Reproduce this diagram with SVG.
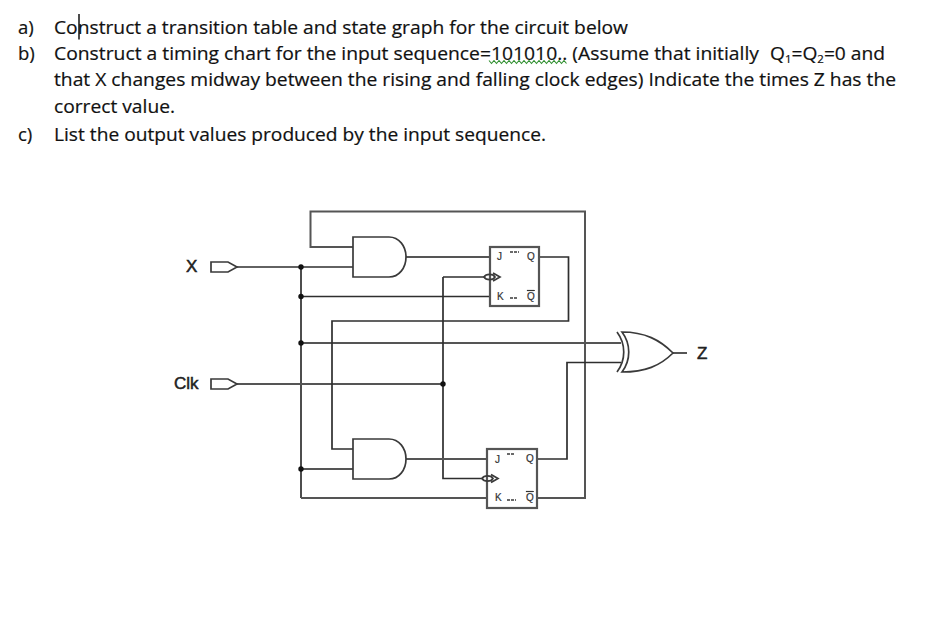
<svg xmlns="http://www.w3.org/2000/svg" width="926" height="622" viewBox="0 0 926 622">
<style>
.t{font-family:"Open Sans","Noto Sans","Liberation Sans",sans-serif;font-size:18.5px;fill:#111;stroke:#111;stroke-width:.2}
.l{font-family:"Liberation Sans",Arial,sans-serif;font-size:17px;fill:#222;stroke:#222;stroke-width:.5}
.f{font-family:"Liberation Sans",Arial,sans-serif;font-size:10px;fill:#333;stroke:#333;stroke-width:.2}
.w{fill:none;stroke:#2e2e2e;stroke-width:1.7}
.g{fill:none;stroke:#555;stroke-width:2}
.n{fill:#fff;stroke:#3a3a3a;stroke-width:1.7}
.b{fill:#fff;stroke:#555;stroke-width:2.200}
.m{fill:none;stroke:#3a3a3a;stroke-width:1.7}
</style>
<defs>
<circle id="dot" r="2.7" fill="#111"/>
<path id="port" class="n" d="M0 0H17L26 5L17 10H0Z"/>
<path id="clk" class="m" d="M0 0C2-3.500 9-3.500 11 0C9 3.500 2 3.500 0 0ZM9-4L16 0L9 4"/>
<path id="and" class="n" d="M0 0H36C46 0 53 9 53 20C53 31 46 40 36 40H0Z"/>
</defs>
<rect width="926" height="622" fill="#fff"/>
<g id="question">
<text class="t" x="18" y="33.500">a)</text>
<text class="t" x="54" y="33.500" textLength="574" lengthAdjust="spacingAndGlyphs">Construct a transition table and state graph for the circuit below</text>
<path d="M79 14V39.500" stroke="#111" stroke-width="1.500"/>
<text class="t" x="18" y="59.500">b)</text>
<text class="t" x="54" y="59.500" textLength="705" lengthAdjust="spacingAndGlyphs">Construct a timing chart for the input sequence=101010.. (Assume that initially</text>
<text class="t" x="770" y="59.500" textLength="115" lengthAdjust="spacingAndGlyphs">Q<tspan font-size="11" dy="3">1</tspan><tspan dy="-3">=Q</tspan><tspan font-size="11" dy="3">2</tspan><tspan dy="-3">=0 and</tspan></text>
<path d="M489 60.500l2.500 3 2.500-3 2.500 3 2.500-3 2.500 3 2.500-3 2.500 3 2.500-3 2.500 3 2.500-3 2.500 3 2.500-3 2.500 3 2.500-3 2.500 3 2.500-3 2.500 3 2.500-3 2.500 3 2.500-3 2.500 3 2.500-3 2.500 3 2.500-3 2.500 3 2.500-3 2.500 3 2.500-3 2.500 3 2.500-3 2.500 3" fill="none" stroke="#2f8f2f" stroke-width="1.100"/>
<text class="t" x="54" y="85.500" textLength="842" lengthAdjust="spacingAndGlyphs">that X changes midway between the rising and falling clock edges) Indicate the times Z has the</text>
<text class="t" x="54" y="113" textLength="121" lengthAdjust="spacingAndGlyphs">correct value.</text>
<text class="t" x="18" y="141">c)</text>
<text class="t" x="54" y="141" textLength="492" lengthAdjust="spacingAndGlyphs">List the output values produced by the input sequence.</text>
</g>
<g id="connectors">
<path class="g" d="M353 247H310.500V211.500H585V498H537"/>
<path class="w" d="M237 267H353"/>
<path class="w" d="M301 267V498"/>
<path class="g" d="M301 498H487"/>
<path class="w" d="M301 296.500H490"/>
<path class="g" d="M301 343H621"/>
<path class="g" d="M237 384H443"/>
<path class="w" d="M443 277V478.500H483"/>
<path class="w" d="M443 277H484"/>
<path class="g" d="M405 257H490"/>
<path class="w" d="M539 257H568.500V321H332V449H353"/>
<path class="g" d="M301 469H353"/>
<path class="g" d="M406 459H487"/>
<path class="w" d="M537 459H567V362.500H621"/>
<path class="g" d="M673 353H687"/>
<use href="#dot" x="301" y="267"/>
<use href="#dot" x="301" y="296.500"/>
<use href="#dot" x="301" y="343"/>
<use href="#dot" x="301" y="469"/>
<use href="#dot" x="443" y="384"/>
</g>
<g id="port-x"><text class="l" x="186" y="272">X</text><use href="#port" x="211" y="262"/></g>
<g id="port-clk"><text class="l" x="174" y="389">Clk</text><use href="#port" x="211" y="379"/></g>
<g id="and-1"><use href="#and" x="353" y="237"/></g>
<g id="and-2"><use href="#and" x="353" y="439"/></g>
<g id="ff-1">
<rect class="b" x="490" y="247" width="49" height="59"/>
<use href="#clk" x="484" y="277"/>
<text class="f" x="497" y="260">J</text><text class="f" x="527" y="260">Q</text>
<text class="f" x="497" y="300">K</text><text class="f" x="527" y="300" text-decoration="overline">Q</text>
<path class="m" d="M510 252H519M510 298H518" stroke-dasharray="3 1"/>
</g>
<g id="ff-2">
<rect class="b" x="487" y="449" width="50" height="59"/>
<use href="#clk" x="482" y="478.500"/>
<text class="f" x="495" y="463">J</text><text class="f" x="526" y="462">Q</text>
<text class="f" x="495" y="501">K</text><text class="f" x="526" y="501" text-decoration="overline">Q</text>
<path class="m" d="M507 454H515M507 500H516" stroke-dasharray="3 1"/>
</g>
<g id="xor">
<path class="n" d="M622 332C645 332 660 340 673 353C660 366 645 372 622 372C631 360 631 344 622 332Z"/>
<path class="m" d="M617 332C626 344 626 360 617 372"/>
<text class="l" x="697" y="359">Z</text>
</g>
</svg>
